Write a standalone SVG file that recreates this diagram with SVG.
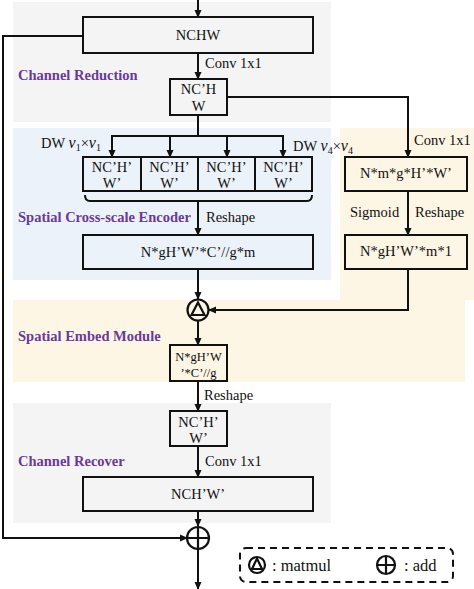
<svg xmlns="http://www.w3.org/2000/svg" width="474" height="589" viewBox="0 0 474 589">
<style>
.t{font-family:"Liberation Serif","Times New Roman",serif;font-size:14.5px;fill:#111}
.c{text-anchor:middle}
.p{font-family:"Liberation Serif","Times New Roman",serif;font-size:14.5px;font-weight:bold;fill:#6a3a9a}
.b{fill:none;stroke:#111;stroke-width:2}
.l{fill:none;stroke:#111;stroke-width:2}
.sym{fill:none;stroke:#111;stroke-width:2.2}
</style>
<defs>
<marker id="ah" markerWidth="8" markerHeight="8" refX="7" refY="4" orient="auto" markerUnits="userSpaceOnUse">
<path d="M0,0.5 L8,4 L0,7.5 Z" fill="#111"/>
</marker>
</defs>
<g id="backgrounds">
<rect x="13" y="2" width="318" height="120" fill="#f4f4f4"/>
<rect x="13" y="128" width="318" height="152" fill="#ecf2f9"/>
<path d="M340,128 H474 V300 H465 V382 H13 V300 H340 Z" fill="#fdf6e5"/>
<rect x="13" y="403" width="318" height="120" fill="#f4f4f4"/>
</g>
<g id="connectors">
<line class="l" x1="198" y1="0" x2="198" y2="17" marker-end="url(#ah)"/>
<line class="l" x1="198" y1="53" x2="198" y2="79" marker-end="url(#ah)"/>
<line class="l" x1="198" y1="115" x2="198" y2="136"/>
<polyline class="l" points="112,157 112,136 283,136 283,157" marker-end="url(#ah)"/>
<line class="l" x1="112" y1="136" x2="112" y2="157" marker-end="url(#ah)"/>
<line class="l" x1="170" y1="136" x2="170" y2="157" marker-end="url(#ah)"/>
<line class="l" x1="227" y1="136" x2="227" y2="157" marker-end="url(#ah)"/>
<path class="l" d="M85,195 Q85,201 90,201 H307 Q312,201 312,195"/>
<line class="l" x1="198" y1="201" x2="198" y2="235" marker-end="url(#ah)"/>
<line class="l" x1="198" y1="269" x2="198" y2="299" marker-end="url(#ah)"/>
<polyline class="l" points="227,97 408,97 408,157" marker-end="url(#ah)"/>
<line class="l" x1="408" y1="191" x2="408" y2="235" marker-end="url(#ah)"/>
<polyline class="l" points="408,269 408,310 209,310" marker-end="url(#ah)"/>
<line class="l" x1="198" y1="321" x2="198" y2="345" marker-end="url(#ah)"/>
<line class="l" x1="198" y1="381" x2="198" y2="411" marker-end="url(#ah)"/>
<line class="l" x1="198" y1="446" x2="198" y2="477" marker-end="url(#ah)"/>
<line class="l" x1="198" y1="511" x2="198" y2="526" marker-end="url(#ah)"/>
<polyline class="l" points="83,36 3,36 3,538 187,538" marker-end="url(#ah)"/>
<line class="l" x1="198" y1="549" x2="198" y2="589" marker-end="url(#ah)"/>
</g>
<g id="nchw"><rect class="b" x="83" y="17" width="230" height="36"/><text class="t c" x="198" y="40">NCHW</text></g>
<g id="label-cr"><text class="t" x="205" y="68">Conv 1x1</text><text class="p" x="18" y="80">Channel Reduction</text></g>
<g id="nchw-reduced"><rect class="b" x="170" y="79" width="57" height="36"/><text class="t c" x="198.5" y="94">NC’H</text><text class="t c" x="198.5" y="111">W</text></g>
<g id="dw-labels">
<text class="t" x="41" y="148">DW <tspan font-style="italic" font-size="16">v</tspan><tspan font-size="10" dy="3">1</tspan><tspan dy="-3">×</tspan><tspan font-style="italic" font-size="16">v</tspan><tspan font-size="10" dy="3">1</tspan></text>
<text class="t" x="293" y="151">DW <tspan font-style="italic" font-size="16">v</tspan><tspan font-size="10" dy="3">4</tspan><tspan dy="-3">×</tspan><tspan font-style="italic" font-size="16">v</tspan><tspan font-size="10" dy="3">4</tspan></text>
</g>
<g id="branch1"><rect class="b" x="83" y="157" width="58" height="34"/><text class="t c" x="112" y="172">NC’H’</text><text class="t c" x="112" y="188">W’</text></g>
<g id="branch2"><rect class="b" x="141" y="157" width="57" height="34"/><text class="t c" x="169.5" y="172">NC’H’</text><text class="t c" x="169.5" y="188">W’</text></g>
<g id="branch3"><rect class="b" x="198" y="157" width="57" height="34"/><text class="t c" x="226.5" y="172">NC’H’</text><text class="t c" x="226.5" y="188">W’</text></g>
<g id="branch4"><rect class="b" x="255" y="157" width="57" height="34"/><text class="t c" x="283.5" y="172">NC’H’</text><text class="t c" x="283.5" y="188">W’</text></g>
<g id="label-sce"><text class="p" x="18" y="222">Spatial Cross-scale Encoder</text><text class="t" x="206" y="222">Reshape</text></g>
<g id="encoder-out"><rect class="b" x="83" y="235" width="230" height="34"/><text class="t c" x="198" y="257">N*gH’W’*C’//g*m</text></g>
<g id="right-labels"><text class="t" x="414" y="145">Conv 1x1</text><text class="t" x="350" y="217">Sigmoid</text><text class="t" x="415" y="217">Reshape</text></g>
<g id="attn"><rect class="b" x="345" y="157" width="122" height="34"/><text class="t c" x="406" y="178">N*m*g*H’*W’</text></g>
<g id="attn-reshaped"><rect class="b" x="345" y="235" width="122" height="34"/><text class="t c" x="406" y="256">N*gH’W’*m*1</text></g>
<g id="matmul"><circle class="sym" cx="198" cy="310" r="10.5"/><path class="sym" d="M198,302.5 L204.5,315 L191.5,315 Z"/></g>
<g id="label-sem"><text class="p" x="18" y="341">Spatial Embed Module</text></g>
<g id="embed-out"><rect class="b" x="170" y="345" width="57" height="36"/><text class="t c" x="198.5" y="361" style="font-size:12.5px">N*gH’W</text><text class="t c" x="198.5" y="377" style="font-size:12.5px">’*C’//g</text></g>
<g id="label-reshape2"><text class="t" x="204" y="400">Reshape</text></g>
<g id="nchw-restored"><rect class="b" x="170" y="411" width="57" height="35"/><text class="t c" x="198.5" y="427">NC’H’</text><text class="t c" x="198.5" y="443">W’</text></g>
<g id="label-rec"><text class="p" x="18" y="466">Channel Recover</text><text class="t" x="205" y="466">Conv 1x1</text></g>
<g id="nchw-out"><rect class="b" x="83" y="477" width="230" height="34"/><text class="t c" x="198" y="499">NCH’W’</text></g>
<g id="add"><circle class="sym" cx="198" cy="538" r="11"/><path class="sym" d="M187,538 H209 M198,527 V549"/></g>
<g id="legend">
<rect x="240" y="548" width="213" height="34" rx="6" fill="none" stroke="#111" stroke-width="2" stroke-dasharray="7,5"/>
<circle class="sym" cx="257" cy="565" r="8"/><path class="sym" d="M257,558.5 L262,569 L252,569 Z"/>
<text class="t" x="272" y="571" style="font-size:16.5px">: matmul</text>
<circle class="sym" cx="386" cy="565" r="9"/><path class="sym" d="M377,565 H395 M386,556 V574"/>
<text class="t" x="404" y="571" style="font-size:16.5px">: add</text>
</g>
</svg>
